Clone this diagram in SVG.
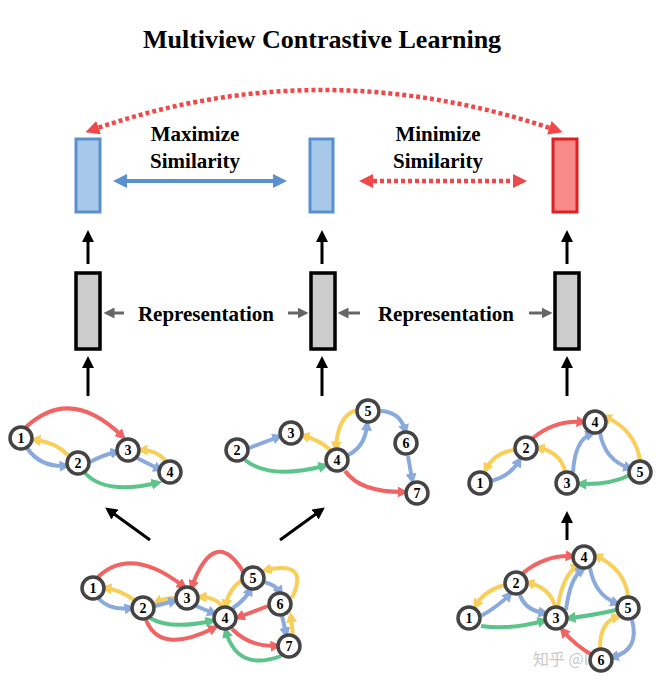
<svg xmlns="http://www.w3.org/2000/svg" width="663" height="689" viewBox="0 0 663 689">
<defs>
<marker id="mr" viewBox="0 0 10 10" refX="5" refY="5" markerWidth="11" markerHeight="11" markerUnits="userSpaceOnUse" orient="auto"><path d="M0,0L10,5L0,10z" fill="#f06464"/></marker>
<marker id="my" viewBox="0 0 10 10" refX="5" refY="5" markerWidth="11" markerHeight="11" markerUnits="userSpaceOnUse" orient="auto"><path d="M0,0L10,5L0,10z" fill="#f8cf5a"/></marker>
<marker id="mb" viewBox="0 0 10 10" refX="5" refY="5" markerWidth="11" markerHeight="11" markerUnits="userSpaceOnUse" orient="auto"><path d="M0,0L10,5L0,10z" fill="#8aaadd"/></marker>
<marker id="mg" viewBox="0 0 10 10" refX="5" refY="5" markerWidth="11" markerHeight="11" markerUnits="userSpaceOnUse" orient="auto"><path d="M0,0L10,5L0,10z" fill="#5cc48a"/></marker>
<marker id="mk" viewBox="0 0 10 10" refX="5" refY="5" markerWidth="12" markerHeight="12" markerUnits="userSpaceOnUse" orient="auto"><path d="M0,0L10,5L0,10z" fill="#000"/></marker>
<marker id="mgr" viewBox="0 0 10 10" refX="5" refY="5" markerWidth="11" markerHeight="11" markerUnits="userSpaceOnUse" orient="auto"><path d="M0,0L10,5L0,10z" fill="#666"/></marker>
<marker id="mbl" viewBox="0 0 10 10" refX="5" refY="5" markerWidth="14" markerHeight="14" markerUnits="userSpaceOnUse" orient="auto-start-reverse"><path d="M0,0L10,5L0,10z" fill="#5a8fd0"/></marker>
<marker id="mrd" viewBox="0 0 10 10" refX="5" refY="5" markerWidth="14" markerHeight="14" markerUnits="userSpaceOnUse" orient="auto-start-reverse"><path d="M0,0L10,5L0,10z" fill="#f04848"/></marker>
</defs>
<style>
.t{font-family:"Liberation Serif",serif;font-weight:bold;fill:#000}
.n circle{fill:#fff;stroke:#444;stroke-width:3.5}
.n text{font-family:"Liberation Serif",serif;font-weight:bold;font-size:14px;text-anchor:middle}
.e path{fill:none;stroke-width:4}
.r{stroke:#f06464;marker-end:url(#mr)}
.y{stroke:#f8cf5a;marker-end:url(#my)}
.b{stroke:#8aaadd;marker-end:url(#mb)}
.g{stroke:#5cc48a;marker-end:url(#mg)}
.k{stroke:#000;stroke-width:3;fill:none;marker-end:url(#mk)}
.gy{stroke:#666;stroke-width:3;fill:none;marker-end:url(#mgr)}
</style>
<rect width="663" height="689" fill="#fff"/>
<text class="t" x="322" y="48" font-size="26" text-anchor="middle">Multiview Contrastive Learning</text>

<g id="vectors">
<rect x="76" y="139" width="24" height="73" fill="#a8c8ea" stroke="#5a8fd0" stroke-width="3"/>
<rect x="310" y="139" width="23" height="73" fill="#a8c8ea" stroke="#5a8fd0" stroke-width="3"/>
<rect x="553" y="139" width="24" height="73" fill="#f88a8a" stroke="#e02020" stroke-width="3"/>
<rect x="76" y="273" width="24" height="76" fill="#cccccc" stroke="#000" stroke-width="3.5"/>
<rect x="311" y="273" width="24" height="76" fill="#cccccc" stroke="#000" stroke-width="3.5"/>
<rect x="555" y="273" width="24" height="76" fill="#cccccc" stroke="#000" stroke-width="3.5"/>
</g>
<g id="labels">
<text class="t" x="195" y="141" font-size="21" text-anchor="middle">Maximize</text>
<text class="t" x="195" y="168" font-size="21" text-anchor="middle">Similarity</text>
<text class="t" x="438" y="141" font-size="21" text-anchor="middle">Minimize</text>
<text class="t" x="438" y="168" font-size="21" text-anchor="middle">Similarity</text>
<text class="t" x="206" y="321" font-size="21" text-anchor="middle">Representation</text>
<text class="t" x="446" y="321" font-size="21" text-anchor="middle">Representation</text>
</g>
<text x="533" y="665" font-family="'Noto Sans CJK SC',sans-serif" font-size="16" fill="#bbb" opacity="0.8">知乎 @linp</text>
<g id="connectors">
<path d="M120,181L280,181" stroke="#5a8fd0" stroke-width="4" marker-start="url(#mbl)" marker-end="url(#mbl)"/>
<path d="M366,181L520,181" stroke="#f04848" stroke-width="4.5" stroke-dasharray="4,3" marker-start="url(#mrd)" marker-end="url(#mrd)"/>
<path d="M92,130Q320,50 556,130" stroke="#f04848" stroke-width="4.5" fill="none" stroke-dasharray="4,3" marker-start="url(#mrd)" marker-end="url(#mrd)"/>
<path class="k" d="M88,264L88,236"/><path class="k" d="M322,264L322,236"/><path class="k" d="M567,264L567,236"/>
<path class="k" d="M88,396L88,362"/><path class="k" d="M322,396L322,362"/><path class="k" d="M567,396L567,362"/>
<path class="k" d="M567,540L567,517"/>
<path class="k" d="M150,540L110,511"/><path class="k" d="M280,540L320,511"/>
<path class="gy" d="M124,313L109,313"/><path class="gy" d="M288,313L303,313"/>
<path class="gy" d="M360,313L343,313"/><path class="gy" d="M529,313L547,313"/>
</g>

<g id="edges" class="e">
<path class="r" d="M25,428Q70,385 122,436"/>
<path class="y" d="M68,455Q55,442 35,440"/>
<path class="b" d="M27,448Q40,467 65,466"/>
<path class="b" d="M90,462Q103,455 116,452"/>
<path class="y" d="M166,461Q156,450 142,450"/>
<path class="b" d="M137,458L159,469"/>
<path class="g" d="M85,473Q105,495 157,483"/>

<path class="b" d="M249,448Q265,442 278,437"/>
<path class="g" d="M245,460Q270,480 324,466"/>
<path class="y" d="M330,450Q320,440 304,436"/>
<path class="y" d="M357,410Q338,415 336,447"/>
<path class="b" d="M348,455Q365,447 367,425"/>
<path class="b" d="M381,411Q400,412 405,430"/>
<path class="b" d="M408,456L412,479"/>
<path class="r" d="M345,471Q360,492 403,492"/>

<path class="r" d="M97,578Q130,545 183,586"/>
<path class="y" d="M134,600Q120,590 106,588"/>
<path class="b" d="M98,598Q110,611 130,608"/>
<path class="y" d="M175,598Q165,598 157,602"/>
<path class="b" d="M155,606L174,601"/>
<path class="r" d="M146,620Q160,655 214,628"/>
<path class="g" d="M150,618Q170,630 211,621"/>
<path class="b" d="M196,606L213,613"/>
<path class="y" d="M222,606Q215,597 201,597"/>
<path class="r" d="M244,573Q215,525 192,586"/>
<path class="y" d="M242,580Q228,590 226,605"/>
<path class="b" d="M233,608Q245,600 250,590"/>
<path class="b" d="M264,582Q276,585 280,592"/>
<path class="y" d="M292,598Q310,560 266,570"/>
<path class="r" d="M268,606Q252,612 239,617"/>
<path class="b" d="M282,616L286,633"/>
<path class="y" d="M293,636L291,617"/>
<path class="r" d="M232,629Q250,647 276,646"/>
<path class="g" d="M281,656Q238,672 226,632"/>

<path class="r" d="M533,438Q555,420 582,422"/>
<path class="y" d="M515,450Q495,452 486,469"/>
<path class="b" d="M491,481Q510,476 519,461"/>
<path class="y" d="M565,471Q560,452 539,448"/>
<path class="b" d="M573,472Q575,440 591,434"/>
<path class="b" d="M600,433Q605,460 629,468"/>
<path class="y" d="M640,460Q635,430 606,417"/>
<path class="g" d="M630,475Q610,485 581,484"/>

<path class="r" d="M523,573Q545,555 571,556"/>
<path class="y" d="M505,585Q485,590 476,605"/>
<path class="b" d="M481,616Q500,605 509,595"/>
<path class="g" d="M481,626Q510,630 543,621"/>
<path class="b" d="M520,595Q525,610 544,613"/>
<path class="y" d="M555,606Q550,588 529,583"/>
<path class="y" d="M558,606Q563,575 577,566"/>
<path class="b" d="M566,610Q570,578 582,570"/>
<path class="b" d="M590,568Q595,595 616,603"/>
<path class="y" d="M628,596Q625,570 597,556"/>
<path class="g" d="M616,610Q595,615 570,618"/>
<path class="r" d="M592,655Q575,645 563,631"/>
<path class="y" d="M600,648Q600,622 617,617"/>
<path class="b" d="M632,620Q640,650 613,657"/>
</g>

<g id="nodes" class="n">
<g id="a1"><circle cx="21" cy="438" r="11"/><text x="21" y="443">1</text></g>
<g id="a2"><circle cx="78" cy="463" r="11"/><text x="78" y="468">2</text></g>
<g id="a3"><circle cx="128" cy="450" r="11"/><text x="128" y="455">3</text></g>
<g id="a4"><circle cx="170" cy="472" r="11"/><text x="170" y="477">4</text></g>

<g id="b2"><circle cx="237" cy="450" r="11"/><text x="237" y="455">2</text></g>
<g id="b3"><circle cx="291" cy="433" r="11"/><text x="291" y="438">3</text></g>
<g id="b4"><circle cx="337" cy="460" r="11"/><text x="337" y="465">4</text></g>
<g id="b5"><circle cx="368" cy="411" r="11"/><text x="368" y="416">5</text></g>
<g id="b6"><circle cx="406" cy="443" r="11"/><text x="406" y="448">6</text></g>
<g id="b7"><circle cx="417" cy="493" r="11"/><text x="417" y="498">7</text></g>

<g id="c1"><circle cx="93" cy="588" r="11"/><text x="93" y="593">1</text></g>
<g id="c2"><circle cx="143" cy="608" r="11"/><text x="143" y="613">2</text></g>
<g id="c3"><circle cx="187" cy="598" r="11"/><text x="187" y="603">3</text></g>
<g id="c4"><circle cx="225" cy="618" r="11"/><text x="225" y="623">4</text></g>
<g id="c5"><circle cx="253" cy="578" r="11"/><text x="253" y="583">5</text></g>
<g id="c6"><circle cx="280" cy="604" r="11"/><text x="280" y="609">6</text></g>
<g id="c7"><circle cx="289" cy="646" r="11"/><text x="289" y="651">7</text></g>

<g id="d1"><circle cx="480" cy="483" r="11"/><text x="480" y="488">1</text></g>
<g id="d2"><circle cx="526" cy="448" r="11"/><text x="526" y="453">2</text></g>
<g id="d3"><circle cx="567" cy="483" r="11"/><text x="567" y="488">3</text></g>
<g id="d4"><circle cx="595" cy="422" r="11"/><text x="595" y="427">4</text></g>
<g id="d5"><circle cx="640" cy="472" r="11"/><text x="640" y="477">5</text></g>

<g id="e1"><circle cx="469" cy="618" r="11"/><text x="469" y="623">1</text></g>
<g id="e2"><circle cx="516" cy="583" r="11"/><text x="516" y="588">2</text></g>
<g id="e3"><circle cx="556" cy="618" r="11"/><text x="556" y="623">3</text></g>
<g id="e4"><circle cx="584" cy="557" r="11"/><text x="584" y="562">4</text></g>
<g id="e5"><circle cx="628" cy="608" r="11"/><text x="628" y="613">5</text></g>
<g id="e6"><circle cx="601" cy="660" r="11"/><text x="601" y="665">6</text></g>
</g>
</svg>
